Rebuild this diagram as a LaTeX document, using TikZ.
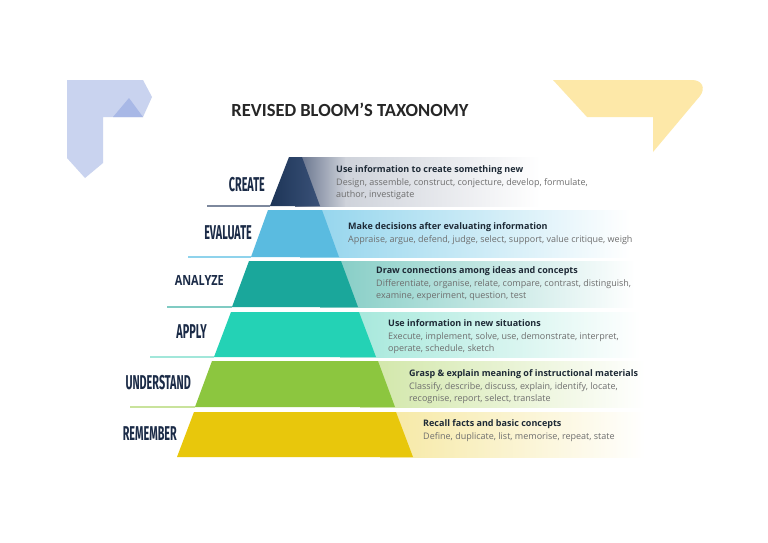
\documentclass[tikz,border=0pt]{standalone}
\usepackage{fontspec}
\usepackage{graphicx}
\usetikzlibrary{positioning}

\newfontfamily\titlefont{Carlito}
\newfontfamily\labelfont{Fira Sans}
\newfontfamily\descfont{Open Sans}

\definecolor{navy}{HTML}{1B2B47}
\definecolor{ink}{HTML}{1E2A36}
\definecolor{txtgray}{HTML}{6E6E6E}
\definecolor{createc}{HTML}{1D3557}
\definecolor{createm}{HTML}{3A5178}
\definecolor{createp}{HTML}{5D6A85}
\definecolor{evalc}{HTML}{5ABBE0}
\definecolor{evalp}{HTML}{8FD3EC}
\definecolor{anac}{HTML}{1AA79B}
\definecolor{anap}{HTML}{80CBC3}
\definecolor{applyc}{HTML}{24D2B5}
\definecolor{applyp}{HTML}{A2E7DA}
\definecolor{undc}{HTML}{8CC63F}
\definecolor{undp}{HTML}{D0E6A6}
\definecolor{remc}{HTML}{E8C70C}
\definecolor{remp}{HTML}{F6E8A2}
\definecolor{bluedeco}{HTML}{C9D3EF}
\definecolor{bluedark}{HTML}{A8B8E6}
\definecolor{yellowdeco}{HTML}{FDE8A8}

\newcommand{\cond}[1]{\scalebox{0.54}[1]{#1}}

\tikzset{
  level/.style={font=\labelfont\bfseries\fontsize{20}{20}\selectfont, text=navy, inner sep=0, anchor=east},
  head/.style={font=\descfont\bfseries\fontsize{9}{12}\selectfont, text=ink, inner sep=0, anchor=base west, text height=7pt, text depth=2.5pt},
  desc/.style={font=\descfont\fontsize{9}{12.5}\selectfont, text=txtgray, inner sep=0, align=left},
  rule/.style={line width=1.6pt}
}

\begin{document}
\begin{tikzpicture}[x=1pt, y=-1pt]
    \useasboundingbox (0,0) rectangle (768,543);
    \fill[white] (0,0) rectangle (768,543);

    % corner shapes
    \fill[bluedeco] (67,80) -- (143,80) -- (152,97) -- (143,117) -- (103,117) -- (103,163) -- (85,178) -- (67,158) -- cycle;
    \fill[bluedark] (129,98) -- (143,117) -- (113,117) -- cycle;
    \fill[yellowdeco] (553,80) -- (692,80) .. controls (702,80) and (706,88) .. (700,96) -- (653,152) -- (653,117) -- (587,117) -- cycle;

    \node[font=\titlefont\bfseries\fontsize{18.5}{18.5}\selectfont, text=black!85, inner sep=0] (title) at (350,110) {REVISED BLOOM’S TAXONOMY};

    % panels behind the pyramid
    \shade[left color=createp, right color=createp!30] (295,157) rectangle (346,206);
    \shade[left color=createp!30, right color=white] (345,157) rectangle (540,206);
    \shade[left color=evalp, right color=white] (300,210) rectangle (630,257);
    \shade[left color=anap, right color=white] (320,261) rectangle (635,307);
    \shade[left color=applyp, right color=white] (340,312) rectangle (640,357);
    \shade[left color=undp, right color=white] (360,361) rectangle (645,407);
    \shade[left color=remp, right color=white] (380,412) rectangle (645,457);

    % pyramid
    \shade[left color=createc, right color=createm] (289,157) -- (302,157) -- (320,206) -- (270,206) -- cycle;
    \fill[evalc] (268,210) -- (322,210) -- (339,257) -- (251,257) -- cycle;
    \fill[anac] (249,261) -- (341,261) -- (358,307) -- (232,307) -- cycle;
    \fill[applyc] (231,312) -- (359,312) -- (376,357) -- (214,357) -- cycle;
    \fill[undc] (212,361) -- (378,361) -- (395,407) -- (195,407) -- cycle;
    \fill[remc] (194,412) -- (396,412) -- (413,457) -- (177,457) -- cycle;

    % rules under the labels
    \draw[rule, color=createp!80] (207,206) -- (270,206);
    \draw[rule, color=evalp] (188,257) -- (251,257);
    \draw[rule, color=anap] (167,307) -- (232,307);
    \draw[rule, color=applyp] (150,357) -- (214,357);
    \draw[rule, color=undp!90!undc] (130,407) -- (195,407);

    % levels
    \node[level] (create) at (265,185) {\cond{CREATE}};
    \node[level] (evaluate) at (252,233) {\cond{EVALUATE}};
    \node[level, font=\descfont\bfseries\fontsize{14}{14}\selectfont] (analyze) at (224,280) {\scalebox{0.78}[1]{ANALYZE}};
    \node[level] (apply) at (207,332) {\cond{APPLY}};
    \node[level] (understand) at (191,383) {\cond{UNDERSTAND}};
    \node[level] (remember) at (177,434) {\cond{REMEMBER}};

    % descriptions
    \node[head] (create-h) at (336,172) {Use information to create something new};
    \node[desc, below=3.5pt of create-h.south west, anchor=north west] (create-d) {Design, assemble, construct, conjecture, develop, formulate,\\author, investigate};

    \node[head] (evaluate-h) at (348,229) {Make decisions after evaluating information};
    \node[desc, below=3.5pt of evaluate-h.south west, anchor=north west] (evaluate-d) {Appraise, argue, defend, judge, select, support, value critique, weigh};

    \node[head] (analyze-h) at (376,273) {Draw connections among ideas and concepts};
    \node[desc, below=3.5pt of analyze-h.south west, anchor=north west] (analyze-d) {Differentiate, organise, relate, compare, contrast, distinguish,\\examine, experiment, question, test};

    \node[head] (apply-h) at (388,326) {Use information in new situations};
    \node[desc, below=3.5pt of apply-h.south west, anchor=north west] (apply-d) {Execute, implement, solve, use, demonstrate, interpret,\\operate, schedule, sketch};

    \node[head] (understand-h) at (409,376) {Grasp \& explain meaning of instructional materials};
    \node[desc, below=3.5pt of understand-h.south west, anchor=north west] (understand-d) {Classify, describe, discuss, explain, identify, locate,\\recognise, report, select, translate};

    \node[head] (remember-h) at (423,426) {Recall facts and basic concepts};
    \node[desc, below=3.5pt of remember-h.south west, anchor=north west] (remember-d) {Define, duplicate, list, memorise, repeat, state};
\end{tikzpicture}
\end{document}
